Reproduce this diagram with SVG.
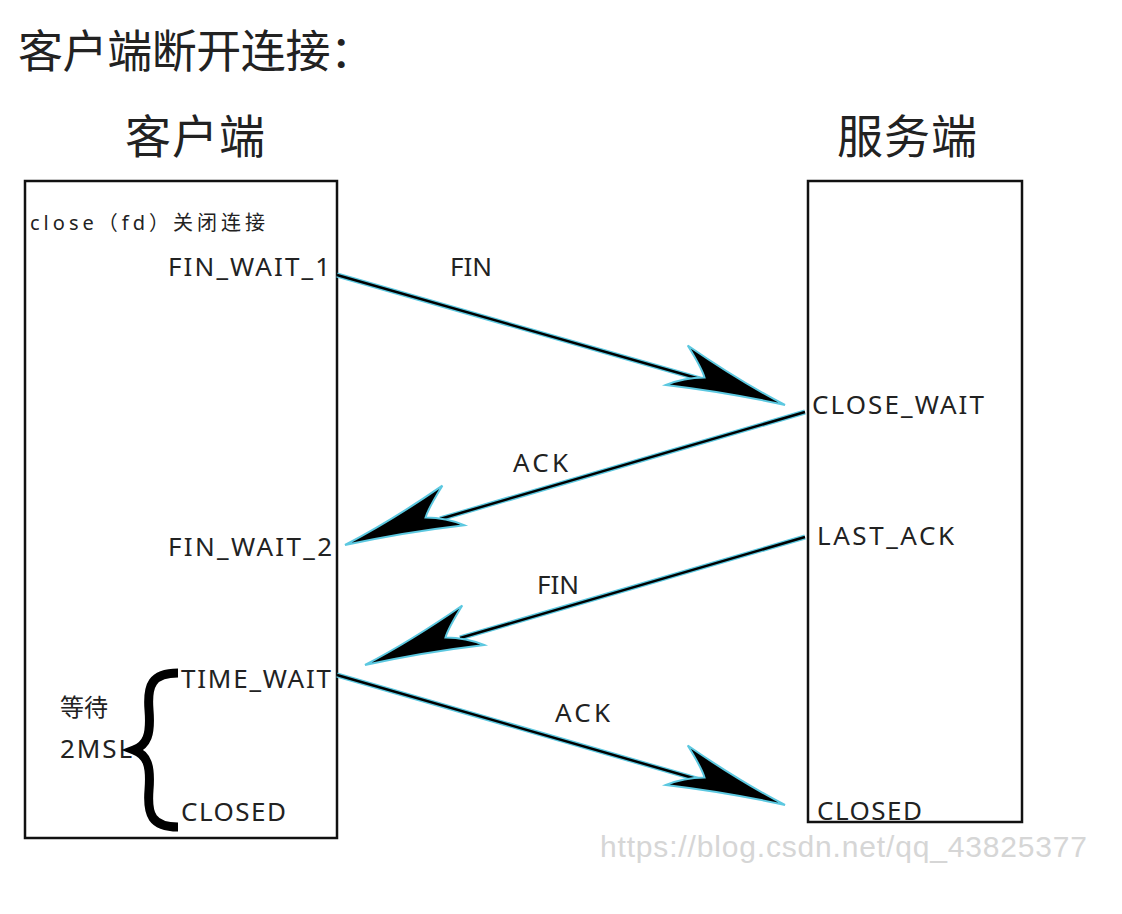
<svg xmlns="http://www.w3.org/2000/svg" width="1122" height="914" viewBox="0 0 1122 914">
<style>
.t{font-family:"Noto Sans","Noto Sans CJK SC",sans-serif;fill:#222}
.box{fill:none;stroke:#111;stroke-width:2.5}
.glow{stroke:#5cc8e0;stroke-width:5;fill:none}
.ln{stroke:#000;stroke-width:2.5;fill:none}
.hd{fill:#000;stroke:#5cc8e0;stroke-width:2}
</style>
<defs>
<path id="head" d="M0,0 Q-50,-10 -110,-30 Q-90,-12 -85,-4 Q-105,2 -120,14 Q-60,4 0,0Z"/>
</defs>
<rect width="1122" height="914" fill="#fff"/>
<text class="t" x="18" y="68" font-size="45" fill="#333" textLength="357">客户端断开连接：</text>
<g id="client">
<text class="t" x="125" y="153" font-size="46" textLength="140">客户端</text>
<rect class="box" x="25" y="181" width="312" height="657"/>
<text class="t" x="30" y="230" font-size="20" textLength="235">close（fd）关闭连接</text>
<text class="t" x="168" y="276" font-size="26" textLength="162">FIN_WAIT_1</text>
<text class="t" x="168" y="556" font-size="26" textLength="164">FIN_WAIT_2</text>
<text class="t" x="181" y="688" font-size="26" textLength="150">TIME_WAIT</text>
<text class="t" x="181" y="821" font-size="26" textLength="105">CLOSED</text>
<text class="t" x="60" y="716" font-size="24" fill="#555">等待</text>
<text class="t" x="60" y="758" font-size="26" textLength="72">2MSL</text>
<path d="M178,673 C152,673 147,685 149,710 C151,735 147,745 134,750 C147,755 151,765 149,790 C147,815 152,827 178,827" fill="none" stroke="#000" stroke-width="9"/>
</g>
<g id="server">
<text class="t" x="837" y="153" font-size="46" textLength="140">服务端</text>
<rect class="box" x="808" y="181" width="214" height="641"/>
<text class="t" x="812" y="414" font-size="26" textLength="172">CLOSE_WAIT</text>
<text class="t" x="817" y="545" font-size="26" textLength="137">LAST_ACK</text>
<text class="t" x="817" y="820" font-size="26" textLength="105">CLOSED</text>
</g>
<g id="connectors">
<path class="glow" d="M337,275 L700,379 M805,412 L440,519 M805,537 L460,638 M337,675 L700,780"/>
<path class="ln" d="M337,275 L700,379 M805,412 L440,519 M805,537 L460,638 M337,675 L700,780"/>
<use href="#head" class="hd" transform="translate(785,405) rotate(16.2)"/>
<use href="#head" class="hd" transform="translate(345,545) rotate(163.9) scale(1,-1)"/>
<use href="#head" class="hd" transform="translate(365,665) rotate(163.8) scale(1,-1)"/>
<use href="#head" class="hd" transform="translate(785,805) rotate(16.2)"/>
<text class="t" x="450" y="276" font-size="26" textLength="42">FIN</text>
<text class="t" x="513" y="472" font-size="26" textLength="55">ACK</text>
<text class="t" x="537" y="594" font-size="26" textLength="42">FIN</text>
<text class="t" x="555" y="722" font-size="26" textLength="55">ACK</text>
</g>
<text x="600" y="857" font-size="30" font-family="Liberation Sans,sans-serif" fill="#ccc" opacity="0.8" textLength="487">https://blog.csdn.net/qq_43825377</text>
</svg>
